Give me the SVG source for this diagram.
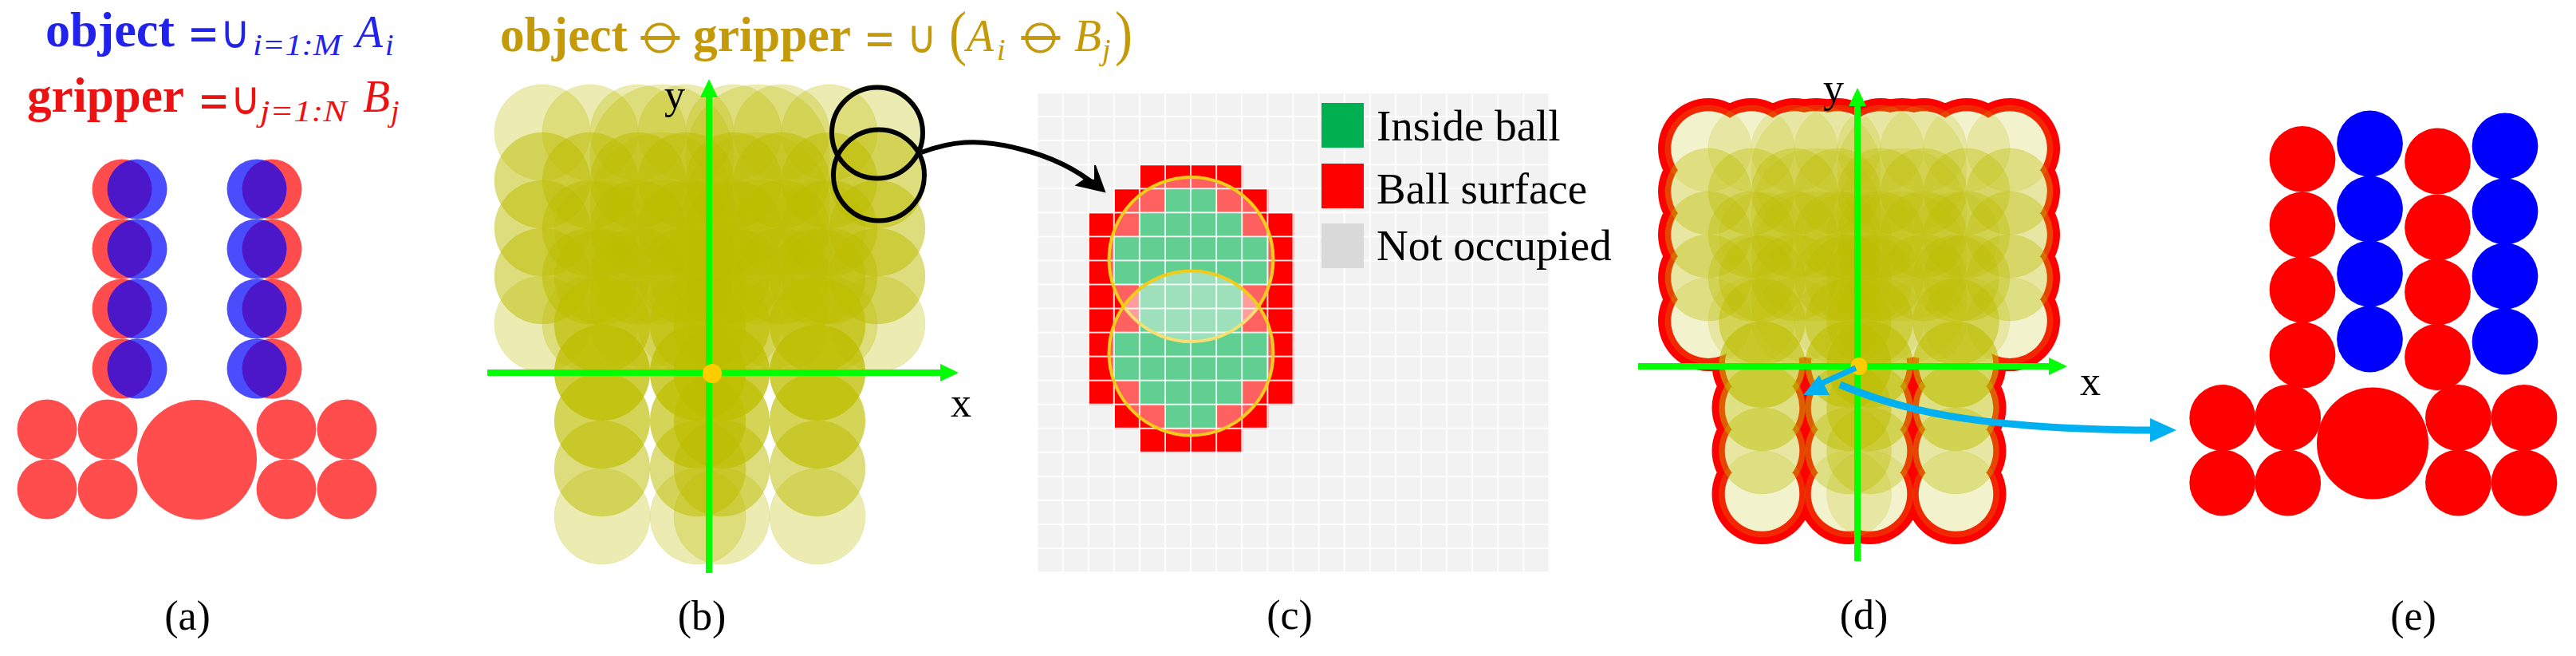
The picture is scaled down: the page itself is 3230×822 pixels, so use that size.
<svg xmlns="http://www.w3.org/2000/svg" xmlns:xlink="http://www.w3.org/1999/xlink" width="3230" height="822" viewBox="0 0 3230 822">
<style>
text{font-family:"Liberation Serif","Times New Roman",serif;fill:#000}
.cap{font-size:52px;text-anchor:middle}
.ax{font-size:52px}
.leg{font-size:55px}
.tb{font-weight:bold;font-size:62px;stroke-width:1}
.mi{font-style:italic;font-size:56px}
.sub{font-style:italic;font-size:38px}
.sym{font-family:"DejaVu Sans",sans-serif;font-size:58px}
.circ{font-family:"DejaVu Sans",sans-serif;font-size:88px;text-anchor:middle}
.blue text{fill:#2222ee}.red text{fill:#ee1111}.gold text{fill:#c49a08}
.gr{fill:#ff0000;fill-opacity:.7}.bl{fill:#0000ff;fill-opacity:.7}
.sr{fill:#ff0000}.sb{fill:#0000ff}
.axis{stroke:#00ff00;stroke-width:8;fill:none;marker-end:url(#ga)}
.o1,.o2,.o3,.o4{fill:#bdbd00;stroke:#bdbd00;stroke-width:1;stroke-opacity:.15}
.o1{fill-opacity:var(--a1)}.o2{fill-opacity:var(--a2)}.o3{fill-opacity:var(--a3)}.o4{fill-opacity:var(--a4)}
.dot{fill:#ffcc00}
.blk{fill:none;stroke:#000;stroke-width:6}
.cy{fill:none;stroke:#00b0f0}
.ball{fill:#fff;fill-opacity:.38;stroke:#f2cc1a;stroke-width:4}
.dots{fill:none;stroke-linecap:round}
</style>
<defs>
<marker id="ga" markerUnits="userSpaceOnUse" markerWidth="24" markerHeight="24" refX="0" refY="12" orient="auto"><path d="M0 1L23 12L0 23z" fill="#00ff00"/></marker>
<pattern id="gl" patternUnits="userSpaceOnUse" x="1301.4" y="117" width="32.1" height="30.05"><path d="M30.4 0h1.7v30.05h-1.7zM0 28.4h32.1v1.65H0z" fill="#fff"/></pattern>
<g id="smallCol">
<circle class="o1" cy="-301" r="60"/><circle class="o2" cy="-241" r="60"/><circle class="o2" cy="-181" r="60"/><circle class="o2" cy="-121" r="60"/><circle class="o1" cy="-61" r="60"/>
</g>
<g id="fingerCol">
<circle class="o1" cy="-180" r="60"/><circle class="o2" cy="-120" r="60"/><circle class="o3" cy="-60" r="60"/><circle class="o4" cy="0" r="60"/><circle class="o3" cy="60" r="60"/><circle class="o2" cy="120" r="60"/><circle class="o1" cy="180" r="60"/>
</g>
<g id="bigCol">
<circle class="o1" cy="-271" r="90"/><circle class="o1" cy="-211" r="90"/><circle class="o1" cy="-151" r="90"/><circle class="o1" cy="-91" r="90"/>
</g>
<g id="mink">
<use href="#smallCol" x="-210"/><use href="#smallCol" x="-150"/><use href="#smallCol" x="-90"/><use href="#smallCol" x="-30"/><use href="#smallCol" x="30"/><use href="#smallCol" x="90"/><use href="#smallCol" x="150"/><use href="#smallCol" x="210"/>
<use href="#bigCol" x="-60"/><use href="#bigCol" x="60"/>
<use href="#fingerCol" x="-135"/><use href="#fingerCol" x="-15"/><use href="#fingerCol" x="15"/><use href="#fingerCol" x="135"/>
</g>
<path id="dotsA" class="dots" d="M-210-301h.01M-210-241h.01M-210-181h.01M-210-121h.01M-210-61h.01M-150-301h.01M-150-241h.01M-150-181h.01M-150-121h.01M-150-61h.01M-90-301h.01M-90-241h.01M-90-181h.01M-90-121h.01M-90-61h.01M-30-301h.01M-30-241h.01M-30-181h.01M-30-121h.01M-30-61h.01M30-301h.01M30-241h.01M30-181h.01M30-121h.01M30-61h.01M90-301h.01M90-241h.01M90-181h.01M90-121h.01M90-61h.01M150-301h.01M150-241h.01M150-181h.01M150-121h.01M150-61h.01M210-301h.01M210-241h.01M210-181h.01M210-121h.01M210-61h.01M-135-180h.01M-135-120h.01M-135-60h.01M-135 0h.01M-135 60h.01M-135 120h.01M-135 180h.01M-15-180h.01M-15-120h.01M-15-60h.01M-15 0h.01M-15 60h.01M-15 120h.01M-15 180h.01M15-180h.01M15-120h.01M15-60h.01M15 0h.01M15 60h.01M15 120h.01M15 180h.01M135-180h.01M135-120h.01M135-60h.01M135 0h.01M135 60h.01M135 120h.01M135 180h.01"/>
<path id="dotsB" class="dots" d="M-60-271h.01M-60-211h.01M-60-151h.01M-60-91h.01M60-271h.01M60-211h.01M60-151h.01M60-91h.01"/>
</defs>
<rect width="3230" height="822" fill="#fff"/>

<g id="panel-a">
<g id="eq-object" class="blue">
<text class="tb" x="57" y="58" textLength="162" lengthAdjust="spacingAndGlyphs">object</text>
<text class="sym" x="235" y="62" textLength="40" lengthAdjust="spacingAndGlyphs">=</text>
<text class="sym" x="276" y="60" textLength="38" lengthAdjust="spacingAndGlyphs">∪</text>
<text class="sub" x="317" y="69" textLength="111" lengthAdjust="spacingAndGlyphs">i=1:M</text>
<text class="mi" x="446" y="59" textLength="34" lengthAdjust="spacingAndGlyphs">A</text>
<text class="sub" x="483" y="69">i</text>
</g>
<g id="eq-gripper" class="red">
<text class="tb" x="34" y="140" textLength="197" lengthAdjust="spacingAndGlyphs">gripper</text>
<text class="sym" x="248" y="146" textLength="40" lengthAdjust="spacingAndGlyphs">=</text>
<text class="sym" x="289" y="143" textLength="38" lengthAdjust="spacingAndGlyphs">∪</text>
<text class="sub" x="326" y="152" textLength="109" lengthAdjust="spacingAndGlyphs">j=1:N</text>
<text class="mi" x="455" y="140" textLength="34" lengthAdjust="spacingAndGlyphs">B</text>
<text class="sub" x="490" y="152">j</text>
</g>
<g id="gripper-a">
<circle class="gr" cx="153" cy="237" r="37.5"/><circle class="gr" cx="153" cy="312" r="37.5"/><circle class="gr" cx="153" cy="387" r="37.5"/><circle class="gr" cx="153" cy="462" r="37.5"/>
<circle class="gr" cx="341" cy="237" r="37.5"/><circle class="gr" cx="341" cy="312" r="37.5"/><circle class="gr" cx="341" cy="387" r="37.5"/><circle class="gr" cx="341" cy="462" r="37.5"/>
<circle class="gr" cx="59" cy="538" r="37.5"/><circle class="gr" cx="135" cy="538" r="37.5"/><circle class="gr" cx="59" cy="613" r="37.5"/><circle class="gr" cx="135" cy="613" r="37.5"/>
<circle class="gr" cx="247" cy="576" r="75"/>
<circle class="gr" cx="359" cy="538" r="37.5"/><circle class="gr" cx="435" cy="538" r="37.5"/><circle class="gr" cx="359" cy="613" r="37.5"/><circle class="gr" cx="435" cy="613" r="37.5"/>
</g>
<g id="object-a">
<circle class="bl" cx="172" cy="237" r="37.5"/><circle class="bl" cx="172" cy="312" r="37.5"/><circle class="bl" cx="172" cy="387" r="37.5"/><circle class="bl" cx="172" cy="462" r="37.5"/>
<circle class="bl" cx="322" cy="237" r="37.5"/><circle class="bl" cx="322" cy="312" r="37.5"/><circle class="bl" cx="322" cy="387" r="37.5"/><circle class="bl" cx="322" cy="462" r="37.5"/>
</g>
<text class="cap" x="235" y="789">(a)</text>
</g>

<g id="panel-b">
<g id="eq-minkowski" class="gold">
<text class="tb" x="627" y="64" textLength="160" lengthAdjust="spacingAndGlyphs">object</text>
<text class="circ" x="829" y="66">⦵</text>
<text class="tb" x="869" y="64" textLength="198" lengthAdjust="spacingAndGlyphs">gripper</text>
<text class="sym" x="1083" y="68" textLength="40" lengthAdjust="spacingAndGlyphs">=</text>
<text class="sym" x="1137" y="66" textLength="38" lengthAdjust="spacingAndGlyphs">∪</text>
<text x="1190" y="67" style="font-size:76px" textLength="22" lengthAdjust="spacingAndGlyphs">(</text>
<text class="mi" x="1212" y="64" textLength="34" lengthAdjust="spacingAndGlyphs">A</text>
<text class="sub" x="1250" y="75">i</text>
<text class="circ" x="1306" y="66">⦵</text>
<text class="mi" x="1347" y="64" textLength="34" lengthAdjust="spacingAndGlyphs">B</text>
<text class="sub" x="1382" y="75">j</text>
<text x="1398" y="67" style="font-size:76px" textLength="22" lengthAdjust="spacingAndGlyphs">)</text>
</g>
<g id="minkowski-b" transform="translate(890 467)" style="--a1:.3;--a2:.51;--a3:.657;--a4:.76"><use href="#mink"/></g>
<g id="axes-b">
<path class="axis" d="M611 467H1179"/><path class="axis" d="M889 718V122"/>
<ellipse class="dot" cx="893" cy="468" rx="12" ry="12"/>
<text class="ax" x="833" y="136">y</text><text class="ax" x="1192" y="522">x</text>
</g>
<g id="highlight-b"><circle class="blk" cx="1100" cy="166.5" r="57"/><circle class="blk" cx="1102" cy="219.5" r="57"/></g>
<text class="cap" x="880" y="789">(b)</text>
</g>

<g id="panel-c">
<rect x="1301.4" y="117" width="642" height="601" fill="#f2f2f2"/>
<g id="cells-surface" fill="#ff0000">
<rect x="1429.8" y="207.15" width="128.4" height="30.05"/><rect x="1397.7" y="237.2" width="192.6" height="30.05"/><rect x="1365.6" y="267.25" width="256.8" height="240.4"/><rect x="1397.7" y="507.65" width="192.6" height="30.05"/><rect x="1429.8" y="537.7" width="128.4" height="30.05"/>
</g>
<g id="cells-inside" fill="#00b050">
<rect x="1461.9" y="237.2" width="64.2" height="30.05"/><rect x="1429.8" y="267.25" width="128.4" height="30.05"/><rect x="1397.7" y="297.3" width="192.6" height="60.1"/><rect x="1429.8" y="357.4" width="128.4" height="60.1"/><rect x="1397.7" y="417.5" width="192.6" height="60.1"/><rect x="1429.8" y="477.6" width="128.4" height="30.05"/><rect x="1461.9" y="507.65" width="64.2" height="30.05"/>
</g>
<rect id="grid" x="1301.4" y="117" width="642" height="601" fill="url(#gl)"/>
<circle class="ball" cx="1493.5" cy="325" r="103"/>
<circle class="ball" cx="1493.5" cy="442.5" r="103"/>
<g id="legend">
<rect x="1657" y="129" width="53" height="56" fill="#00b050"/><text class="leg" x="1726" y="176">Inside ball</text>
<rect x="1657" y="205" width="53" height="56" fill="#ff0000"/><text class="leg" x="1726" y="255">Ball surface</text>
<rect x="1657" y="280" width="53" height="56" fill="#d9d9d9"/><text class="leg" x="1726" y="326">Not occupied</text>
</g>
<text class="cap" x="1617" y="788">(c)</text>
</g>

<g id="panel-d">
<g id="boundary-d" transform="translate(2331 457) scale(.9)">
<use href="#dotsA" stroke="#ff0000" stroke-width="140"/><use href="#dotsB" stroke="#ff0000" stroke-width="200"/>
<use href="#dotsA" stroke="#ffffff" stroke-width="104"/><use href="#dotsB" stroke="#ffffff" stroke-width="164"/>
</g>
<g id="minkowski-d" transform="translate(2331 457) scale(.9)" style="--a1:.2;--a2:.36;--a3:.488;--a4:.59"><use href="#mink"/></g>
<g id="axes-d">
<path class="axis" d="M2054 459H2569"/><path class="axis" d="M2329 703V133"/>
<ellipse class="dot" cx="2331" cy="459" rx="10.5" ry="11"/>
<text class="ax" x="2286" y="128">y</text><text class="ax" x="2608" y="495">x</text>
</g>
<text class="cap" x="2337" y="788">(d)</text>
</g>

<g id="panel-e">
<g id="gripper-e">
<circle class="sr" cx="2887" cy="199.5" r="41.4"/><circle class="sr" cx="2887" cy="282" r="41.4"/><circle class="sr" cx="2887" cy="363" r="41.4"/><circle class="sr" cx="2887" cy="445" r="41.4"/>
<circle class="sr" cx="3056.5" cy="202" r="41.4"/><circle class="sr" cx="3056.5" cy="285" r="41.4"/><circle class="sr" cx="3056.5" cy="366" r="41.4"/><circle class="sr" cx="3056.5" cy="447.5" r="41.4"/>
<circle class="sr" cx="2786.7" cy="523.5" r="41.4"/><circle class="sr" cx="2868.7" cy="523.5" r="41.4"/><circle class="sr" cx="2786.7" cy="605" r="41.4"/><circle class="sr" cx="2868.7" cy="605" r="41.4"/>
<circle class="sr" cx="2975" cy="555.5" r="70"/>
<circle class="sr" cx="3082.4" cy="523.5" r="41.4"/><circle class="sr" cx="3165" cy="523.5" r="41.4"/><circle class="sr" cx="3082.4" cy="605" r="41.4"/><circle class="sr" cx="3165" cy="605" r="41.4"/>
</g>
<g id="object-e">
<circle class="sb" cx="2971.5" cy="180" r="41.4"/><circle class="sb" cx="2971.5" cy="262" r="41.4"/><circle class="sb" cx="2971.5" cy="343" r="41.4"/><circle class="sb" cx="2971.5" cy="425" r="41.4"/>
<circle class="sb" cx="3141" cy="183" r="41.4"/><circle class="sb" cx="3141" cy="265" r="41.4"/><circle class="sb" cx="3141" cy="346" r="41.4"/><circle class="sb" cx="3141" cy="428" r="41.4"/>
</g>
<text class="cap" x="3026" y="789">(e)</text>
</g>

<g id="connectors">
<path class="blk" d="M1155 191C1190 178 1225 172 1280 187C1320 197 1350 212 1376 234"/>
<path d="M1373 207L1385 240L1350 232L1360 225L1373 226z" fill="#000" stroke="#000" stroke-width="2"/>
<path class="cy" stroke-width="9" d="M2307 482C2380 512 2470 538 2700 539"/>
<path d="M2729 539L2696 524V554z" fill="#00b0f0"/>
<path class="cy" stroke-width="7" d="M2327 461L2278 483"/>
<path d="M2261 495L2281 470L2294 495z" fill="#00b0f0"/>
</g>
</svg>
